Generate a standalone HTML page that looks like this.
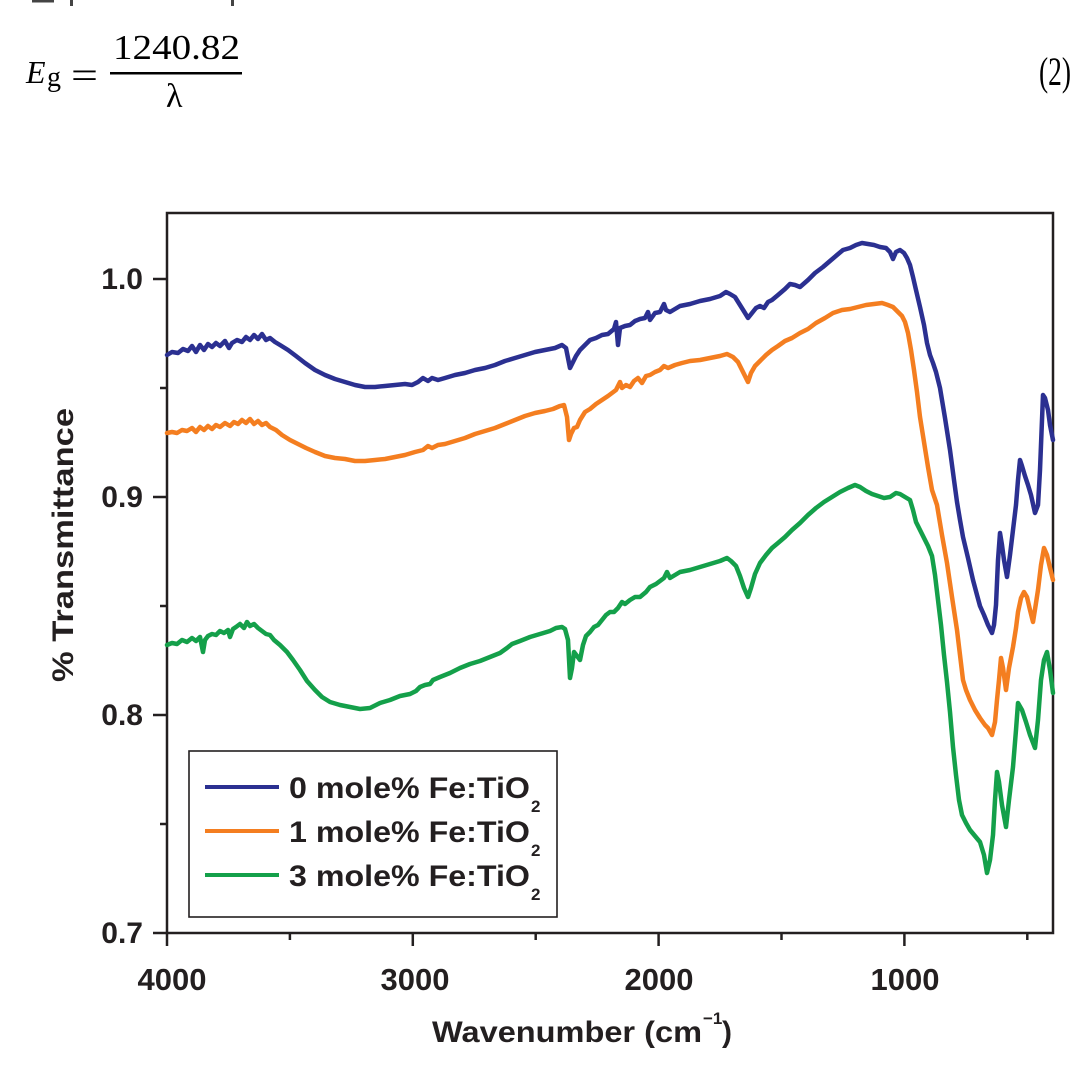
<!DOCTYPE html>
<html>
<head>
<meta charset="utf-8">
<style>
html,body{margin:0;padding:0;background:#fff;}
svg{display:block;}
.t{font-family:"Liberation Sans",Arial,sans-serif;font-weight:bold;fill:#231f20;}
.s{font-family:"Liberation Serif","Times New Roman",serif;fill:#000;}
</style>
</head>
<body>
<svg width="1072" height="1065" viewBox="0 0 1072 1065" xmlns="http://www.w3.org/2000/svg">
<rect width="1072" height="1065" fill="#fff"/>

<!-- cut-off text fragments at top -->
<rect x="32" y="0" width="22" height="2.5" fill="#444"/>
<rect x="70" y="0" width="3" height="6" fill="#444"/>
<rect x="231" y="0" width="3" height="6" fill="#444"/>

<!-- equation -->
<text class="s" x="26" y="83" font-size="32" font-style="italic">E</text>
<text class="s" x="47" y="86" font-size="28">g</text>
<text class="s" x="71" y="88" font-size="38" textLength="27" lengthAdjust="spacingAndGlyphs">=</text>
<text class="s" x="113" y="59" font-size="35" textLength="127" lengthAdjust="spacingAndGlyphs">1240.82</text>
<rect x="110" y="72" width="132" height="2.5" fill="#000"/>
<text class="s" x="166" y="107" font-size="34">λ</text>
<text class="s" x="1039" y="85" font-size="40" textLength="32" lengthAdjust="spacingAndGlyphs">(2)</text>

<!-- frame -->
<rect x="167" y="213" width="886" height="720" fill="none" stroke="#231f20" stroke-width="2.5"/>

<!-- y ticks -->
<g stroke="#231f20" stroke-width="2.5">
<line x1="153" y1="279" x2="167" y2="279"/>
<line x1="153" y1="497" x2="167" y2="497"/>
<line x1="153" y1="715" x2="167" y2="715"/>
<line x1="153" y1="933" x2="167" y2="933"/>
<line x1="160" y1="388" x2="167" y2="388"/>
<line x1="160" y1="606" x2="167" y2="606"/>
<line x1="160" y1="824" x2="167" y2="824"/>
<!-- x ticks -->
<line x1="167" y1="933" x2="167" y2="946"/>
<line x1="412.8" y1="933" x2="412.8" y2="946"/>
<line x1="658.6" y1="933" x2="658.6" y2="946"/>
<line x1="904.4" y1="933" x2="904.4" y2="946"/>
<line x1="289.9" y1="933" x2="289.9" y2="940"/>
<line x1="535.7" y1="933" x2="535.7" y2="940"/>
<line x1="781.5" y1="933" x2="781.5" y2="940"/>
<line x1="1027.3" y1="933" x2="1027.3" y2="940"/>
</g>

<!-- tick labels -->
<g class="t" font-size="30">
<text x="143" y="289" text-anchor="end">1.0</text>
<text x="143" y="507" text-anchor="end">0.9</text>
<text x="143" y="725" text-anchor="end">0.8</text>
<text x="143" y="943" text-anchor="end">0.7</text>
</g>
<g class="t" font-size="31">
<text x="172" y="990" text-anchor="middle">4000</text>
<text x="415" y="990" text-anchor="middle">3000</text>
<text x="659" y="990" text-anchor="middle">2000</text>
<text x="905" y="990" text-anchor="middle">1000</text>
</g>

<!-- axis titles -->
<text class="t" font-size="30" transform="translate(73,545) rotate(-90)" text-anchor="middle" textLength="274" lengthAdjust="spacingAndGlyphs">% Transmittance</text>
<text class="t" x="432" y="1042" font-size="30" textLength="270" lengthAdjust="spacingAndGlyphs">Wavenumber (cm</text>
<text class="t" x="703" y="1024" font-size="17">−1</text>
<text class="t" x="722" y="1042" font-size="30">)</text>

<!-- series -->
<g fill="none" stroke-width="4.5" stroke-linejoin="round" stroke-linecap="round">
<polyline stroke="#2b3091" points="167,355 172,352 178,353 183,349 188,351 192,346 196,352 200,345 204,350 208,344 212,347 216,343 220,346 225,341 229,348 232,343 237,340 242,342 246,337 250,340 254,335 258,339 262,334 266,340 270,338 275,342 280,345 288,350 296,356 305,363 315,370 325,375 335,379 345,382 355,385 365,387 375,387 385,386 395,385 405,384 412,385 418,382 423,378 428,381 432,378 438,380 445,378 455,375 465,373 475,370 485,368 495,365 505,361 515,358 525,355 535,352 545,350 555,348 562,345 566,348 570,368 573,362 576,356 580,350 584,346 590,340 596,338 602,335 608,334 614,329 616,322 618,345 620,328 625,326 630,325 635,321 640,319 645,318 648,312 650,320 655,313 660,312 664,304 666,310 670,312 675,309 680,306 690,304 700,301 710,299 720,296 726,292 730,294 735,297 740,305 745,313 748,318 752,313 756,308 760,306 764,308 768,302 772,300 778,295 785,289 790,284 795,285 800,287 808,280 815,273 823,267 830,261 837,255 843,250 850,248 856,245 862,243 868,244 874,245 880,247 886,248 890,252 893,259 896,252 900,250 904,253 907,258 910,265 913,277 916,290 920,307 924,325 927,343 930,355 933,363 936,372 940,388 945,418 950,450 954,480 957,502 960,520 963,537 968,558 973,580 977,595 980,606 984,615 988,625 992,633 994,625 996,605 998,560 1000,533 1002,545 1004,560 1007,577 1010,555 1013,530 1016,505 1018,480 1020,460 1022,466 1025,476 1028,485 1031,495 1035,513 1038,505 1040,470 1042,420 1043,395 1045,398 1048,410 1050,425 1053,440"/>
<polyline stroke="#f47e20" points="167,433 172,432 177,433 182,430 187,431 192,428 196,432 200,427 204,430 208,426 212,429 216,425 220,427 225,423 230,426 234,422 238,424 242,420 246,423 250,419 254,424 258,421 262,425 266,423 270,427 276,430 282,435 290,440 298,444 306,448 315,452 325,456 335,458 345,459 355,461 365,461 375,460 385,459 395,457 405,455 415,452 423,450 428,446 432,448 438,445 445,444 455,441 465,438 475,434 485,431 495,428 505,424 515,420 525,416 535,413 545,411 553,409 560,406 564,405 567,417 569,440 571,434 574,428 577,427 580,420 585,412 590,409 596,404 602,400 608,396 612,393 616,390 620,382 622,388 626,385 630,387 634,381 638,378 642,383 646,376 650,375 655,372 660,370 664,366 668,368 675,365 682,363 690,361 700,360 710,358 720,356 727,354 733,357 738,362 742,370 746,378 748,382 751,373 755,366 760,361 766,355 772,350 778,346 785,341 792,338 800,333 808,329 816,323 825,318 833,313 842,310 850,309 858,307 866,305 874,304 882,303 888,305 893,307 898,312 902,316 905,322 908,333 911,350 914,370 917,392 920,417 924,442 928,467 932,490 937,505 942,535 947,563 952,597 957,630 960,655 963,680 966,690 970,700 975,710 980,718 985,725 988,728 992,735 995,722 997,700 999,680 1001,658 1003,668 1006,690 1009,668 1013,647 1016,628 1018,612 1021,598 1024,592 1027,597 1030,610 1033,622 1036,603 1038,590 1041,565 1044,548 1047,555 1050,568 1053,580"/>
<polyline stroke="#14a04a" points="167,645 172,643 177,644 182,640 187,642 192,638 196,641 200,637 203,652 205,640 208,636 212,634 216,635 220,631 224,633 228,630 230,637 233,629 236,627 240,624 244,628 247,622 250,626 254,624 258,628 262,631 266,634 270,635 274,640 280,645 287,652 293,660 300,670 307,681 315,690 322,697 330,702 340,705 350,707 360,709 370,708 380,703 390,700 400,696 410,694 416,691 420,687 425,685 430,684 433,680 440,677 450,673 460,668 470,664 480,661 490,657 500,653 507,648 512,644 520,641 530,637 540,634 550,631 556,628 562,627 565,629 568,640 570,678 572,668 574,652 577,656 580,660 583,645 586,636 590,632 594,627 598,625 602,620 606,615 610,612 614,612 618,608 622,602 625,604 630,600 635,597 640,597 646,592 650,587 656,584 660,581 664,578 667,572 670,578 675,575 680,572 690,570 700,567 710,564 720,561 727,558 731,561 736,566 740,576 744,588 748,597 751,588 755,574 760,563 766,555 772,548 778,543 785,537 792,530 800,523 808,515 816,508 824,502 832,497 840,492 848,488 855,485 860,487 866,491 872,494 878,496 884,498 890,497 896,493 900,494 905,497 910,500 913,510 916,522 920,530 924,538 928,546 932,556 935,575 938,600 941,625 944,655 947,682 950,712 953,747 956,775 959,800 962,815 966,823 970,830 975,836 980,842 984,855 987,873 990,860 993,835 995,800 997,772 999,782 1002,805 1006,827 1009,800 1013,767 1016,730 1018,703 1022,710 1026,722 1030,735 1035,748 1038,720 1041,680 1044,660 1047,652 1050,670 1053,693"/>
</g>

<!-- legend -->
<rect x="189" y="751" width="368" height="166" fill="#fff" stroke="#231f20" stroke-width="1.6"/>
<g stroke-width="4">
<line x1="205" y1="787" x2="279" y2="787" stroke="#2b3091"/>
<line x1="205" y1="831" x2="279" y2="831" stroke="#f47e20"/>
<line x1="205" y1="875" x2="279" y2="875" stroke="#14a04a"/>
</g>
<g class="t" font-size="30">
<text x="289" y="798" textLength="241" lengthAdjust="spacingAndGlyphs">0 mole% Fe:TiO</text>
<text x="289" y="842" textLength="241" lengthAdjust="spacingAndGlyphs">1 mole% Fe:TiO</text>
<text x="289" y="886" textLength="241" lengthAdjust="spacingAndGlyphs">3 mole% Fe:TiO</text>
</g>
<g class="t" font-size="17">
<text x="531" y="812">2</text>
<text x="531" y="856">2</text>
<text x="531" y="900">2</text>
</g>
</svg>
</body>
</html>
